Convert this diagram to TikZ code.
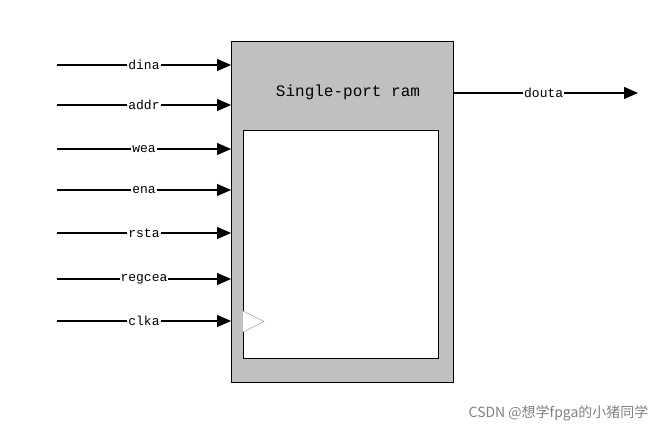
\documentclass[tikz,border=0pt]{standalone}
\usepackage{fontspec}
\setmonofont{Liberation Mono}
\newfontfamily\cjk{Noto Sans CJK SC}
\usetikzlibrary{arrows.meta}
\begin{document}
\begin{tikzpicture}[x=1pt,y=-1pt,
  sig/.style={draw,line width=1.2pt,-{Triangle[length=14pt,width=12pt]}},
  lab/.style={fill=white,inner sep=1pt,font=\ttfamily\fontsize{13}{13}\selectfont}]
\useasboundingbox (0,0) rectangle (670,435);
\node[draw,line width=1pt,fill={rgb,255:red,192;green,192;blue,192},minimum width=222pt,minimum height=341pt,anchor=north west,inner sep=0] (ram) at (231,41) {};
\node[draw,line width=1pt,fill=white,minimum width=195pt,minimum height=228pt,anchor=north west,inner sep=0] (core) at (243,130) {};
\node[font=\ttfamily\fontsize{16}{16}\selectfont] (title) at (348,92) {Single-port ram};
\draw[gray,fill=white] (243,311) -- (264,321.5) -- (243,332);
\foreach \n/\y in {dina/65,addr/105,wea/149,ena/190,rsta/233,regcea/279,clka/321}{
  \coordinate (s\n) at (57,\y);
  \coordinate (e\n) at (231,\y);
  \draw[sig] (s\n) -- (e\n) node[lab,pos=0.5] (l\n) {\n};
}
\coordinate (so) at (453,93);
\coordinate (eo) at (638,93);
\draw[sig] (so) -- (eo) node[lab,pos=0.49] (lo) {douta};
\node[gray,font=\cjk\fontsize{14}{14}\selectfont,anchor=east] (wm) at (652,413) {CSDN @想学fpga的小猪同学};
\end{tikzpicture}
\end{document}
